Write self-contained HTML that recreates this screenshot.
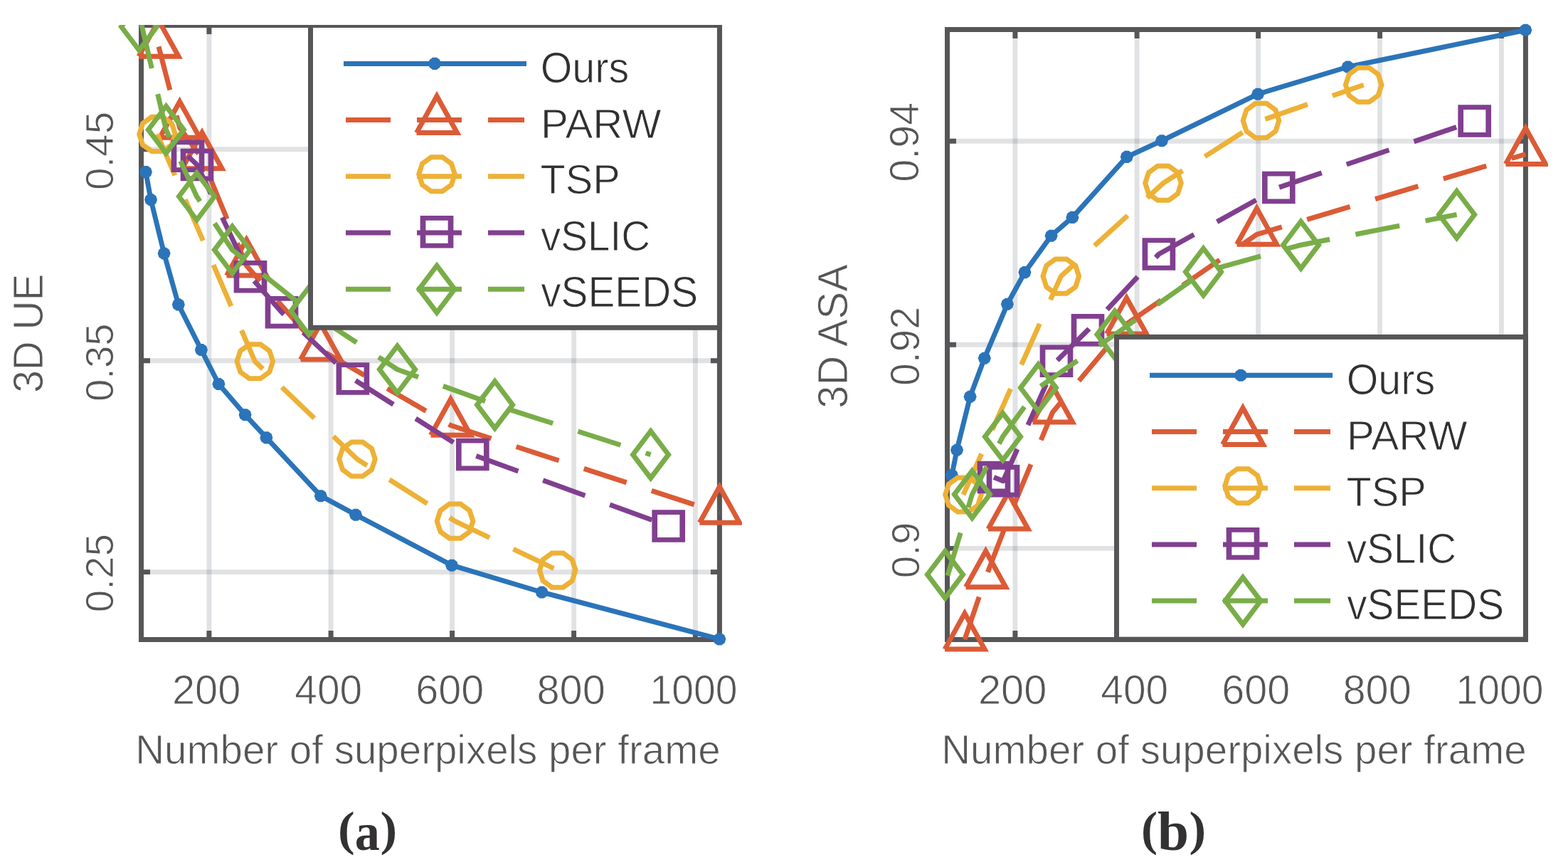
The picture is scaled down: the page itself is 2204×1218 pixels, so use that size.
<!DOCTYPE html>
<html><head><meta charset="utf-8"><title>Superpixel evaluation</title><style>html,body{margin:0;padding:0;background:#fff;}body{width:2204px;height:1218px;overflow:hidden;}svg{display:block;}</style></head><body>
<svg width="2204" height="1218" viewBox="0 0 2204 1218">
<defs><clipPath id="cl"><rect x="0" y="35" width="1043" height="1183"/></clipPath><clipPath id="cr"><rect x="1100" y="0" width="1076" height="1218"/></clipPath></defs>
<rect width="2204" height="1218" fill="#fff"/>
<g font-family='"Liberation Sans", Arial, Helvetica, sans-serif'>
<g clip-path="url(#cl)">
<line x1="293.9" y1="35.5" x2="293.9" y2="898.5" stroke="rgb(55,62,75)" stroke-opacity="0.15" stroke-width="6.9"/>
<line x1="465.1" y1="35.5" x2="465.1" y2="898.5" stroke="rgb(55,62,75)" stroke-opacity="0.15" stroke-width="6.9"/>
<line x1="635.6" y1="35.5" x2="635.6" y2="898.5" stroke="rgb(55,62,75)" stroke-opacity="0.15" stroke-width="6.9"/>
<line x1="806.6" y1="35.5" x2="806.6" y2="898.5" stroke="rgb(55,62,75)" stroke-opacity="0.15" stroke-width="6.9"/>
<line x1="977.4" y1="35.5" x2="977.4" y2="898.5" stroke="rgb(55,62,75)" stroke-opacity="0.15" stroke-width="6.9"/>
<line x1="198.5" y1="209.8" x2="1011.4" y2="209.8" stroke="rgb(55,62,75)" stroke-opacity="0.15" stroke-width="6.9"/>
<line x1="198.5" y1="506.7" x2="1011.4" y2="506.7" stroke="rgb(55,62,75)" stroke-opacity="0.15" stroke-width="6.9"/>
<line x1="198.5" y1="803.6" x2="1011.4" y2="803.6" stroke="rgb(55,62,75)" stroke-opacity="0.15" stroke-width="6.9"/>
<path d="M293.9 898.5V886M293.9 35.5V48M465.1 898.5V886M465.1 35.5V48M635.6 898.5V886M635.6 35.5V48M806.6 898.5V886M806.6 35.5V48M977.4 898.5V886M977.4 35.5V48M198.5 209.8H211M1011.4 209.8H998.9M198.5 506.7H211M1011.4 506.7H998.9M198.5 803.6H211M1011.4 803.6H998.9" stroke="#565658" stroke-width="6.9" fill="none"/>
<rect x="198.5" y="35.5" width="812.9" height="863" fill="none" stroke="#565658" stroke-width="7"/>
<path d="M204.9 241.6 L212 280.5 L230.6 356 L250.8 427.9 L282.9 491.5 L307.4 539.5 L344.6 582.8 L374.4 614.9 L450.8 696.7 L500 723.2 L635.1 794.2 L761.6 832 L1011.3 897.9" fill="none" stroke="#2b74b9" stroke-width="7" stroke-linejoin="round"/>
<polygon points="213.9,241.6 212.18,246.89 207.68,250.16 202.12,250.16 197.62,246.89 195.9,241.6 197.62,236.31 202.12,233.04 207.68,233.04 212.18,236.31" fill="#2b74b9"/>
<polygon points="221,280.5 219.28,285.79 214.78,289.06 209.22,289.06 204.72,285.79 203,280.5 204.72,275.21 209.22,271.94 214.78,271.94 219.28,275.21" fill="#2b74b9"/>
<polygon points="239.6,356 237.88,361.29 233.38,364.56 227.82,364.56 223.32,361.29 221.6,356 223.32,350.71 227.82,347.44 233.38,347.44 237.88,350.71" fill="#2b74b9"/>
<polygon points="259.8,427.9 258.08,433.19 253.58,436.46 248.02,436.46 243.52,433.19 241.8,427.9 243.52,422.61 248.02,419.34 253.58,419.34 258.08,422.61" fill="#2b74b9"/>
<polygon points="291.9,491.5 290.18,496.79 285.68,500.06 280.12,500.06 275.62,496.79 273.9,491.5 275.62,486.21 280.12,482.94 285.68,482.94 290.18,486.21" fill="#2b74b9"/>
<polygon points="316.4,539.5 314.68,544.79 310.18,548.06 304.62,548.06 300.12,544.79 298.4,539.5 300.12,534.21 304.62,530.94 310.18,530.94 314.68,534.21" fill="#2b74b9"/>
<polygon points="353.6,582.8 351.88,588.09 347.38,591.36 341.82,591.36 337.32,588.09 335.6,582.8 337.32,577.51 341.82,574.24 347.38,574.24 351.88,577.51" fill="#2b74b9"/>
<polygon points="383.4,614.9 381.68,620.19 377.18,623.46 371.62,623.46 367.12,620.19 365.4,614.9 367.12,609.61 371.62,606.34 377.18,606.34 381.68,609.61" fill="#2b74b9"/>
<polygon points="459.8,696.7 458.08,701.99 453.58,705.26 448.02,705.26 443.52,701.99 441.8,696.7 443.52,691.41 448.02,688.14 453.58,688.14 458.08,691.41" fill="#2b74b9"/>
<polygon points="509,723.2 507.28,728.49 502.78,731.76 497.22,731.76 492.72,728.49 491,723.2 492.72,717.91 497.22,714.64 502.78,714.64 507.28,717.91" fill="#2b74b9"/>
<polygon points="644.1,794.2 642.38,799.49 637.88,802.76 632.32,802.76 627.82,799.49 626.1,794.2 627.82,788.91 632.32,785.64 637.88,785.64 642.38,788.91" fill="#2b74b9"/>
<polygon points="770.6,832 768.88,837.29 764.38,840.56 758.82,840.56 754.32,837.29 752.6,832 754.32,826.71 758.82,823.44 764.38,823.44 768.88,826.71" fill="#2b74b9"/>
<polygon points="1020.3,897.9 1018.58,903.19 1014.08,906.46 1008.52,906.46 1004.02,903.19 1002.3,897.9 1004.02,892.61 1008.52,889.34 1014.08,889.34 1018.58,892.61" fill="#2b74b9"/>
<path d="M223 65.5 L252.6 179.4 L284 222.9 L346.5 373.3 L450.5 491.3 L633.5 597.5 L1011.4 720.5" fill="none" stroke="#db5b36" stroke-width="7" stroke-linejoin="round" stroke-dasharray="63 37"/>
<polyline points="195,79.3 223,28.8 251,79.3 195,79.3" fill="none" stroke="#db5b36" stroke-width="7" stroke-miterlimit="10"/>
<polyline points="224.6,193.2 252.6,142.7 280.6,193.2 224.6,193.2" fill="none" stroke="#db5b36" stroke-width="7" stroke-miterlimit="10"/>
<polyline points="256,236.7 284,186.2 312,236.7 256,236.7" fill="none" stroke="#db5b36" stroke-width="7" stroke-miterlimit="10"/>
<polyline points="318.5,387.1 346.5,336.6 374.5,387.1 318.5,387.1" fill="none" stroke="#db5b36" stroke-width="7" stroke-miterlimit="10"/>
<polyline points="422.5,505.1 450.5,454.6 478.5,505.1 422.5,505.1" fill="none" stroke="#db5b36" stroke-width="7" stroke-miterlimit="10"/>
<polyline points="605.5,611.3 633.5,560.8 661.5,611.3 605.5,611.3" fill="none" stroke="#db5b36" stroke-width="7" stroke-miterlimit="10"/>
<polyline points="983.4,734.3 1011.4,683.8 1039.4,734.3 983.4,734.3" fill="none" stroke="#db5b36" stroke-width="7" stroke-miterlimit="10"/>
<path d="M221 188.4 L358.3 507.7 L502 645 L639.5 732.1 L783.7 801.1" fill="none" stroke="#edb136" stroke-width="7" stroke-linejoin="round" stroke-dasharray="63 37"/>
<polygon points="246.3,188.4 241.47,203.27 228.82,212.46 213.18,212.46 200.53,203.27 195.7,188.4 200.53,173.53 213.18,164.34 228.82,164.34 241.47,173.53" fill="none" stroke="#edb136" stroke-width="7" stroke-miterlimit="10"/>
<polygon points="383.6,507.7 378.77,522.57 366.12,531.76 350.48,531.76 337.83,522.57 333,507.7 337.83,492.83 350.48,483.64 366.12,483.64 378.77,492.83" fill="none" stroke="#edb136" stroke-width="7" stroke-miterlimit="10"/>
<polygon points="527.3,645 522.47,659.87 509.82,669.06 494.18,669.06 481.53,659.87 476.7,645 481.53,630.13 494.18,620.94 509.82,620.94 522.47,630.13" fill="none" stroke="#edb136" stroke-width="7" stroke-miterlimit="10"/>
<polygon points="664.8,732.1 659.97,746.97 647.32,756.16 631.68,756.16 619.03,746.97 614.2,732.1 619.03,717.23 631.68,708.04 647.32,708.04 659.97,717.23" fill="none" stroke="#edb136" stroke-width="7" stroke-miterlimit="10"/>
<polygon points="809,801.1 804.17,815.97 791.52,825.16 775.88,825.16 763.23,815.97 758.4,801.1 763.23,786.23 775.88,777.04 791.52,777.04 804.17,786.23" fill="none" stroke="#edb136" stroke-width="7" stroke-miterlimit="10"/>
<path d="M264 219.2 L277 231.5 L352 388.7 L396 438.8 L495.9 532.1 L664.3 638.6 L939.7 739" fill="none" stroke="#813f8f" stroke-width="7" stroke-linejoin="round" stroke-dasharray="63 37"/>
<path d="M240.65 196.45H287.35V241.95H240.65ZM248.35 203.2V235.2H279.65V203.2Z" fill="#813f8f" fill-rule="evenodd"/>
<path d="M253.65 208.75H300.35V254.25H253.65ZM261.35 215.5V247.5H292.65V215.5Z" fill="#813f8f" fill-rule="evenodd"/>
<path d="M328.65 365.95H375.35V411.45H328.65ZM336.35 372.7V404.7H367.65V372.7Z" fill="#813f8f" fill-rule="evenodd"/>
<path d="M372.65 416.05H419.35V461.55H372.65ZM380.35 422.8V454.8H411.65V422.8Z" fill="#813f8f" fill-rule="evenodd"/>
<path d="M472.55 509.35H519.25V554.85H472.55ZM480.25 516.1V548.1H511.55V516.1Z" fill="#813f8f" fill-rule="evenodd"/>
<path d="M640.95 615.85H687.65V661.35H640.95ZM648.65 622.6V654.6H679.95V622.6Z" fill="#813f8f" fill-rule="evenodd"/>
<path d="M916.35 716.25H963.05V761.75H916.35ZM924.05 723V755H955.35V723Z" fill="#813f8f" fill-rule="evenodd"/>
<path d="M199 34.7 L233.4 182.2 L276.5 276 L326.5 351 L434 437 L558.5 519 L695.5 568.7 L914.6 638.7" fill="none" stroke="#79ad48" stroke-width="7" stroke-linejoin="round" stroke-dasharray="63 37"/>
<polygon points="195.5,4.5 220.5,37.5 195.5,70.5 170.5,37.5" fill="none" stroke="#79ad48" stroke-width="7" stroke-miterlimit="10"/>
<polygon points="233.4,149.2 258.4,182.2 233.4,215.2 208.4,182.2" fill="none" stroke="#79ad48" stroke-width="7" stroke-miterlimit="10"/>
<polygon points="276.5,243 301.5,276 276.5,309 251.5,276" fill="none" stroke="#79ad48" stroke-width="7" stroke-miterlimit="10"/>
<polygon points="326.5,318 351.5,351 326.5,384 301.5,351" fill="none" stroke="#79ad48" stroke-width="7" stroke-miterlimit="10"/>
<polygon points="434,404 459,437 434,470 409,437" fill="none" stroke="#79ad48" stroke-width="7" stroke-miterlimit="10"/>
<polygon points="558.5,486 583.5,519 558.5,552 533.5,519" fill="none" stroke="#79ad48" stroke-width="7" stroke-miterlimit="10"/>
<polygon points="695.5,535.7 720.5,568.7 695.5,601.7 670.5,568.7" fill="none" stroke="#79ad48" stroke-width="7" stroke-miterlimit="10"/>
<polygon points="914.6,605.7 939.6,638.7 914.6,671.7 889.6,638.7" fill="none" stroke="#79ad48" stroke-width="7" stroke-miterlimit="10"/>
<rect x="436.5" y="35.5" width="574.9" height="424.8" fill="#fff" stroke="#565658" stroke-width="7"/>
<path d="M483 89.4H740" stroke="#2b74b9" stroke-width="7"/>
<polygon points="620,89.4 618.28,94.69 613.78,97.96 608.22,97.96 603.72,94.69 602,89.4 603.72,84.11 608.22,80.84 613.78,80.84 618.28,84.11" fill="#2b74b9"/>
<path d="M486 168.6H737" stroke="#db5b36" stroke-width="7" stroke-dasharray="63 37"/>
<polyline points="585.5,186.6 614,135.1 642.5,186.6 585.5,186.6" fill="none" stroke="#db5b36" stroke-width="7" stroke-miterlimit="10"/>
<path d="M486 247.8H737" stroke="#edb136" stroke-width="7" stroke-dasharray="63 37"/>
<polygon points="639.3,244.8 634.47,259.67 621.82,268.86 606.18,268.86 593.53,259.67 588.7,244.8 593.53,229.93 606.18,220.74 621.82,220.74 634.47,229.93" fill="none" stroke="#edb136" stroke-width="7" stroke-miterlimit="10"/>
<path d="M486 327H737" stroke="#813f8f" stroke-width="7" stroke-dasharray="63 37"/>
<path d="M590.65 303.05H637.35V348.55H590.65ZM598.35 309.8V341.8H629.65V309.8Z" fill="#813f8f" fill-rule="evenodd"/>
<path d="M486 406.2H737" stroke="#79ad48" stroke-width="7" stroke-dasharray="63 37"/>
<polygon points="614,373.2 639,406.2 614,439.2 589,406.2" fill="none" stroke="#79ad48" stroke-width="7" stroke-miterlimit="10"/>
</g>
<text x="821.9" y="116.45" id="leg0L" text-anchor="middle" font-size="60.93" stroke="#fff" stroke-width="0.9" fill="#303031" textLength="124.44" lengthAdjust="spacingAndGlyphs">Ours</text>
<text x="844.7" y="194.2" id="leg1L" text-anchor="middle" font-size="57.05" stroke="#fff" stroke-width="0.9" fill="#303031" textLength="169.48" lengthAdjust="spacingAndGlyphs">PARW</text>
<text x="815.59" y="272.27" id="leg2L" text-anchor="middle" font-size="57.43" stroke="#fff" stroke-width="0.9" fill="#303031" textLength="112.26" lengthAdjust="spacingAndGlyphs">TSP</text>
<text x="837.08" y="352.2" id="leg3L" text-anchor="middle" font-size="59" stroke="#fff" stroke-width="0.9" fill="#303031" textLength="153.95" lengthAdjust="spacingAndGlyphs">vSLIC</text>
<text x="870.65" y="431.24" id="leg4L" text-anchor="middle" font-size="60.33" stroke="#fff" stroke-width="0.9" fill="#303031" textLength="220.88" lengthAdjust="spacingAndGlyphs">vSEEDS</text>
<text x="290.11" y="989.38" id="xt200L" text-anchor="middle" font-size="56.46" stroke="#fff" stroke-width="0.9" fill="#555557" textLength="96.42" lengthAdjust="spacingAndGlyphs">200</text>
<text x="461.79" y="989.38" id="xt400L" text-anchor="middle" font-size="56.46" stroke="#fff" stroke-width="0.9" fill="#555557" textLength="94.93" lengthAdjust="spacingAndGlyphs">400</text>
<text x="632.19" y="989.38" id="xt600L" text-anchor="middle" font-size="56.46" stroke="#fff" stroke-width="0.9" fill="#555557" textLength="96" lengthAdjust="spacingAndGlyphs">600</text>
<text x="802.59" y="989.38" id="xt800L" text-anchor="middle" font-size="56.46" stroke="#fff" stroke-width="0.9" fill="#555557" textLength="96.39" lengthAdjust="spacingAndGlyphs">800</text>
<text x="975.04" y="989.38" id="xt1000L" text-anchor="middle" font-size="56.46" stroke="#fff" stroke-width="0.9" fill="#555557" textLength="122.87" lengthAdjust="spacingAndGlyphs">1000</text>
<text transform="translate(159.03 212) rotate(-90)" id="yt0L" text-anchor="middle" font-size="56.06" stroke="#fff" stroke-width="0.9" fill="#555557" textLength="110.27" lengthAdjust="spacingAndGlyphs">0.45</text>
<text transform="translate(158.79 509.21) rotate(-90)" id="yt1L" text-anchor="middle" font-size="56.06" stroke="#fff" stroke-width="0.9" fill="#555557" textLength="109.65" lengthAdjust="spacingAndGlyphs">0.35</text>
<text transform="translate(158.79 805.01) rotate(-90)" id="yt2L" text-anchor="middle" font-size="56.06" stroke="#fff" stroke-width="0.9" fill="#555557" textLength="110.29" lengthAdjust="spacingAndGlyphs">0.25</text>
<text x="601.51" y="1072.86" id="xlabL" text-anchor="middle" font-size="57.76" stroke="#fff" stroke-width="0.9" fill="#555557" textLength="822.39" lengthAdjust="spacingAndGlyphs">Number of superpixels per frame</text>
<g clip-path="url(#cr)">
<line x1="1426.9" y1="41.5" x2="1426.9" y2="898.5" stroke="rgb(55,62,75)" stroke-opacity="0.15" stroke-width="6.9"/>
<line x1="1598.1" y1="41.5" x2="1598.1" y2="898.5" stroke="rgb(55,62,75)" stroke-opacity="0.15" stroke-width="6.9"/>
<line x1="1768.6" y1="41.5" x2="1768.6" y2="898.5" stroke="rgb(55,62,75)" stroke-opacity="0.15" stroke-width="6.9"/>
<line x1="1939.6" y1="41.5" x2="1939.6" y2="898.5" stroke="rgb(55,62,75)" stroke-opacity="0.15" stroke-width="6.9"/>
<line x1="2110.4" y1="41.5" x2="2110.4" y2="898.5" stroke="rgb(55,62,75)" stroke-opacity="0.15" stroke-width="6.9"/>
<line x1="1331.5" y1="198.3" x2="2144.4" y2="198.3" stroke="rgb(55,62,75)" stroke-opacity="0.15" stroke-width="6.9"/>
<line x1="1331.5" y1="484.3" x2="2144.4" y2="484.3" stroke="rgb(55,62,75)" stroke-opacity="0.15" stroke-width="6.9"/>
<line x1="1331.5" y1="770.4" x2="2144.4" y2="770.4" stroke="rgb(55,62,75)" stroke-opacity="0.15" stroke-width="6.9"/>
<path d="M1426.9 898.5V886M1426.9 41.5V54M1598.1 898.5V886M1598.1 41.5V54M1768.6 898.5V886M1768.6 41.5V54M1939.6 898.5V886M1939.6 41.5V54M2110.4 898.5V886M2110.4 41.5V54M1331.5 198.3H1344M2144.4 198.3H2131.9M1331.5 484.3H1344M2144.4 484.3H2131.9M1331.5 770.4H1344M2144.4 770.4H2131.9" stroke="#565658" stroke-width="6.9" fill="none"/>
<rect x="1331.5" y="41.5" width="812.9" height="857" fill="none" stroke="#565658" stroke-width="7"/>
<path d="M1337.9 667.6 L1345 632.2 L1363.6 557.3 L1383.8 503.2 L1415.9 427.3 L1440.4 382.6 L1477.6 331.2 L1507.4 305.4 L1583.8 220.4 L1633 197.7 L1768.1 132.2 L1894.6 94 L2144.3 42.2" fill="none" stroke="#2b74b9" stroke-width="7" stroke-linejoin="round"/>
<polygon points="1346.9,667.6 1345.18,672.89 1340.68,676.16 1335.12,676.16 1330.62,672.89 1328.9,667.6 1330.62,662.31 1335.12,659.04 1340.68,659.04 1345.18,662.31" fill="#2b74b9"/>
<polygon points="1354,632.2 1352.28,637.49 1347.78,640.76 1342.22,640.76 1337.72,637.49 1336,632.2 1337.72,626.91 1342.22,623.64 1347.78,623.64 1352.28,626.91" fill="#2b74b9"/>
<polygon points="1372.6,557.3 1370.88,562.59 1366.38,565.86 1360.82,565.86 1356.32,562.59 1354.6,557.3 1356.32,552.01 1360.82,548.74 1366.38,548.74 1370.88,552.01" fill="#2b74b9"/>
<polygon points="1392.8,503.2 1391.08,508.49 1386.58,511.76 1381.02,511.76 1376.52,508.49 1374.8,503.2 1376.52,497.91 1381.02,494.64 1386.58,494.64 1391.08,497.91" fill="#2b74b9"/>
<polygon points="1424.9,427.3 1423.18,432.59 1418.68,435.86 1413.12,435.86 1408.62,432.59 1406.9,427.3 1408.62,422.01 1413.12,418.74 1418.68,418.74 1423.18,422.01" fill="#2b74b9"/>
<polygon points="1449.4,382.6 1447.68,387.89 1443.18,391.16 1437.62,391.16 1433.12,387.89 1431.4,382.6 1433.12,377.31 1437.62,374.04 1443.18,374.04 1447.68,377.31" fill="#2b74b9"/>
<polygon points="1486.6,331.2 1484.88,336.49 1480.38,339.76 1474.82,339.76 1470.32,336.49 1468.6,331.2 1470.32,325.91 1474.82,322.64 1480.38,322.64 1484.88,325.91" fill="#2b74b9"/>
<polygon points="1516.4,305.4 1514.68,310.69 1510.18,313.96 1504.62,313.96 1500.12,310.69 1498.4,305.4 1500.12,300.11 1504.62,296.84 1510.18,296.84 1514.68,300.11" fill="#2b74b9"/>
<polygon points="1592.8,220.4 1591.08,225.69 1586.58,228.96 1581.02,228.96 1576.52,225.69 1574.8,220.4 1576.52,215.11 1581.02,211.84 1586.58,211.84 1591.08,215.11" fill="#2b74b9"/>
<polygon points="1642,197.7 1640.28,202.99 1635.78,206.26 1630.22,206.26 1625.72,202.99 1624,197.7 1625.72,192.41 1630.22,189.14 1635.78,189.14 1640.28,192.41" fill="#2b74b9"/>
<polygon points="1777.1,132.2 1775.38,137.49 1770.88,140.76 1765.32,140.76 1760.82,137.49 1759.1,132.2 1760.82,126.91 1765.32,123.64 1770.88,123.64 1775.38,126.91" fill="#2b74b9"/>
<polygon points="1903.6,94 1901.88,99.29 1897.38,102.56 1891.82,102.56 1887.32,99.29 1885.6,94 1887.32,88.71 1891.82,85.44 1897.38,85.44 1901.88,88.71" fill="#2b74b9"/>
<polygon points="2153.3,42.2 2151.58,47.49 2147.08,50.76 2141.52,50.76 2137.02,47.49 2135.3,42.2 2137.02,36.91 2141.52,33.64 2147.08,33.64 2151.58,36.91" fill="#2b74b9"/>
<path d="M1356 898.3 L1385.6 811 L1417 729.3 L1479.5 579.2 L1583.5 455.2 L1766.5 329.4 L2144.4 216.6" fill="none" stroke="#db5b36" stroke-width="7" stroke-linejoin="round" stroke-dasharray="63 37"/>
<polyline points="1328,912.1 1356,861.6 1384,912.1 1328,912.1" fill="none" stroke="#db5b36" stroke-width="7" stroke-miterlimit="10"/>
<polyline points="1357.6,824.8 1385.6,774.3 1413.6,824.8 1357.6,824.8" fill="none" stroke="#db5b36" stroke-width="7" stroke-miterlimit="10"/>
<polyline points="1389,743.1 1417,692.6 1445,743.1 1389,743.1" fill="none" stroke="#db5b36" stroke-width="7" stroke-miterlimit="10"/>
<polyline points="1451.5,593 1479.5,542.5 1507.5,593 1451.5,593" fill="none" stroke="#db5b36" stroke-width="7" stroke-miterlimit="10"/>
<polyline points="1555.5,469 1583.5,418.5 1611.5,469 1555.5,469" fill="none" stroke="#db5b36" stroke-width="7" stroke-miterlimit="10"/>
<polyline points="1738.5,343.2 1766.5,292.7 1794.5,343.2 1738.5,343.2" fill="none" stroke="#db5b36" stroke-width="7" stroke-miterlimit="10"/>
<polyline points="2116.4,230.4 2144.4,179.9 2172.4,230.4 2116.4,230.4" fill="none" stroke="#db5b36" stroke-width="7" stroke-miterlimit="10"/>
<path d="M1354 695 L1491.3 388.1 L1635 257.3 L1772.5 169.4 L1916.7 119.3" fill="none" stroke="#edb136" stroke-width="7" stroke-linejoin="round" stroke-dasharray="63 37"/>
<polygon points="1379.3,695 1374.47,709.87 1361.82,719.06 1346.18,719.06 1333.53,709.87 1328.7,695 1333.53,680.13 1346.18,670.94 1361.82,670.94 1374.47,680.13" fill="none" stroke="#edb136" stroke-width="7" stroke-miterlimit="10"/>
<polygon points="1516.6,388.1 1511.77,402.97 1499.12,412.16 1483.48,412.16 1470.83,402.97 1466,388.1 1470.83,373.23 1483.48,364.04 1499.12,364.04 1511.77,373.23" fill="none" stroke="#edb136" stroke-width="7" stroke-miterlimit="10"/>
<polygon points="1660.3,257.3 1655.47,272.17 1642.82,281.36 1627.18,281.36 1614.53,272.17 1609.7,257.3 1614.53,242.43 1627.18,233.24 1642.82,233.24 1655.47,242.43" fill="none" stroke="#edb136" stroke-width="7" stroke-miterlimit="10"/>
<polygon points="1797.8,169.4 1792.97,184.27 1780.32,193.46 1764.68,193.46 1752.03,184.27 1747.2,169.4 1752.03,154.53 1764.68,145.34 1780.32,145.34 1792.97,154.53" fill="none" stroke="#edb136" stroke-width="7" stroke-miterlimit="10"/>
<polygon points="1942,119.3 1937.17,134.17 1924.52,143.36 1908.88,143.36 1896.23,134.17 1891.4,119.3 1896.23,104.43 1908.88,95.24 1924.52,95.24 1937.17,104.43" fill="none" stroke="#edb136" stroke-width="7" stroke-miterlimit="10"/>
<path d="M1397 670.4 L1410 675.7 L1485 507.3 L1529 463.8 L1628.9 357 L1797.3 263.4 L2072.7 169.9" fill="none" stroke="#813f8f" stroke-width="7" stroke-linejoin="round" stroke-dasharray="63 37"/>
<path d="M1373.65 647.65H1420.35V693.15H1373.65ZM1381.35 654.4V686.4H1412.65V654.4Z" fill="#813f8f" fill-rule="evenodd"/>
<path d="M1386.65 652.95H1433.35V698.45H1386.65ZM1394.35 659.7V691.7H1425.65V659.7Z" fill="#813f8f" fill-rule="evenodd"/>
<path d="M1461.65 484.55H1508.35V530.05H1461.65ZM1469.35 491.3V523.3H1500.65V491.3Z" fill="#813f8f" fill-rule="evenodd"/>
<path d="M1505.65 441.05H1552.35V486.55H1505.65ZM1513.35 447.8V479.8H1544.65V447.8Z" fill="#813f8f" fill-rule="evenodd"/>
<path d="M1605.55 334.25H1652.25V379.75H1605.55ZM1613.25 341V373H1644.55V341Z" fill="#813f8f" fill-rule="evenodd"/>
<path d="M1773.95 240.65H1820.65V286.15H1773.95ZM1781.65 247.4V279.4H1812.95V247.4Z" fill="#813f8f" fill-rule="evenodd"/>
<path d="M2049.35 147.15H2096.05V192.65H2049.35ZM2057.05 153.9V185.9H2088.35V153.9Z" fill="#813f8f" fill-rule="evenodd"/>
<path d="M1332 808.8 L1366.4 694.6 L1409.5 613.4 L1459.5 544.8 L1567 470 L1691.5 382 L1828.5 344.2 L2047.6 301.5" fill="none" stroke="#79ad48" stroke-width="7" stroke-linejoin="round" stroke-dasharray="63 37"/>
<polygon points="1328.5,774.2 1353.5,807.2 1328.5,840.2 1303.5,807.2" fill="none" stroke="#79ad48" stroke-width="7" stroke-miterlimit="10"/>
<polygon points="1366.4,661.6 1391.4,694.6 1366.4,727.6 1341.4,694.6" fill="none" stroke="#79ad48" stroke-width="7" stroke-miterlimit="10"/>
<polygon points="1409.5,580.4 1434.5,613.4 1409.5,646.4 1384.5,613.4" fill="none" stroke="#79ad48" stroke-width="7" stroke-miterlimit="10"/>
<polygon points="1459.5,511.8 1484.5,544.8 1459.5,577.8 1434.5,544.8" fill="none" stroke="#79ad48" stroke-width="7" stroke-miterlimit="10"/>
<polygon points="1567,437 1592,470 1567,503 1542,470" fill="none" stroke="#79ad48" stroke-width="7" stroke-miterlimit="10"/>
<polygon points="1691.5,349 1716.5,382 1691.5,415 1666.5,382" fill="none" stroke="#79ad48" stroke-width="7" stroke-miterlimit="10"/>
<polygon points="1828.5,311.2 1853.5,344.2 1828.5,377.2 1803.5,344.2" fill="none" stroke="#79ad48" stroke-width="7" stroke-miterlimit="10"/>
<polygon points="2047.6,268.5 2072.6,301.5 2047.6,334.5 2022.6,301.5" fill="none" stroke="#79ad48" stroke-width="7" stroke-miterlimit="10"/>
<rect x="1569.5" y="473.4" width="574.9" height="424.8" fill="#fff" stroke="#565658" stroke-width="7"/>
<path d="M1616 527.3H1873" stroke="#2b74b9" stroke-width="7"/>
<polygon points="1753,527.3 1751.28,532.59 1746.78,535.86 1741.22,535.86 1736.72,532.59 1735,527.3 1736.72,522.01 1741.22,518.74 1746.78,518.74 1751.28,522.01" fill="#2b74b9"/>
<path d="M1619 606.5H1870" stroke="#db5b36" stroke-width="7" stroke-dasharray="63 37"/>
<polyline points="1718.5,624.5 1747,573 1775.5,624.5 1718.5,624.5" fill="none" stroke="#db5b36" stroke-width="7" stroke-miterlimit="10"/>
<path d="M1619 685.7H1870" stroke="#edb136" stroke-width="7" stroke-dasharray="63 37"/>
<polygon points="1772.3,682.7 1767.47,697.57 1754.82,706.76 1739.18,706.76 1726.53,697.57 1721.7,682.7 1726.53,667.83 1739.18,658.64 1754.82,658.64 1767.47,667.83" fill="none" stroke="#edb136" stroke-width="7" stroke-miterlimit="10"/>
<path d="M1619 764.9H1870" stroke="#813f8f" stroke-width="7" stroke-dasharray="63 37"/>
<path d="M1723.65 740.95H1770.35V786.45H1723.65ZM1731.35 747.7V779.7H1762.65V747.7Z" fill="#813f8f" fill-rule="evenodd"/>
<path d="M1619 844.1H1870" stroke="#79ad48" stroke-width="7" stroke-dasharray="63 37"/>
<polygon points="1747,811.1 1772,844.1 1747,877.1 1722,844.1" fill="none" stroke="#79ad48" stroke-width="7" stroke-miterlimit="10"/>
</g>
<text x="1954.9" y="553.89" id="leg0R" text-anchor="middle" font-size="60.93" stroke="#fff" stroke-width="0.9" fill="#303031" textLength="124.44" lengthAdjust="spacingAndGlyphs">Ours</text>
<text x="1977.7" y="631.7" id="leg1R" text-anchor="middle" font-size="57.05" stroke="#fff" stroke-width="0.9" fill="#303031" textLength="169.48" lengthAdjust="spacingAndGlyphs">PARW</text>
<text x="1948.59" y="710.75" id="leg2R" text-anchor="middle" font-size="57.43" stroke="#fff" stroke-width="0.9" fill="#303031" textLength="112.26" lengthAdjust="spacingAndGlyphs">TSP</text>
<text x="1970.08" y="790.68" id="leg3R" text-anchor="middle" font-size="59" stroke="#fff" stroke-width="0.9" fill="#303031" textLength="153.95" lengthAdjust="spacingAndGlyphs">vSLIC</text>
<text x="2003.65" y="869.7" id="leg4R" text-anchor="middle" font-size="60.33" stroke="#fff" stroke-width="0.9" fill="#303031" textLength="220.88" lengthAdjust="spacingAndGlyphs">vSEEDS</text>
<text x="1423.11" y="989.38" id="xt200R" text-anchor="middle" font-size="56.46" stroke="#fff" stroke-width="0.9" fill="#555557" textLength="96.42" lengthAdjust="spacingAndGlyphs">200</text>
<text x="1594.79" y="989.38" id="xt400R" text-anchor="middle" font-size="56.46" stroke="#fff" stroke-width="0.9" fill="#555557" textLength="94.93" lengthAdjust="spacingAndGlyphs">400</text>
<text x="1765.19" y="989.38" id="xt600R" text-anchor="middle" font-size="56.46" stroke="#fff" stroke-width="0.9" fill="#555557" textLength="96" lengthAdjust="spacingAndGlyphs">600</text>
<text x="1935.59" y="989.38" id="xt800R" text-anchor="middle" font-size="56.46" stroke="#fff" stroke-width="0.9" fill="#555557" textLength="96.39" lengthAdjust="spacingAndGlyphs">800</text>
<text x="2108.04" y="989.38" id="xt1000R" text-anchor="middle" font-size="56.46" stroke="#fff" stroke-width="0.9" fill="#555557" textLength="122.87" lengthAdjust="spacingAndGlyphs">1000</text>
<text transform="translate(1291.37 199.8) rotate(-90)" id="yt0R" text-anchor="middle" font-size="57.14" stroke="#fff" stroke-width="0.9" fill="#555557" textLength="111.75" lengthAdjust="spacingAndGlyphs">0.94</text>
<text transform="translate(1292.02 486.49) rotate(-90)" id="yt1R" text-anchor="middle" font-size="56.53" stroke="#fff" stroke-width="0.9" fill="#555557" textLength="111.16" lengthAdjust="spacingAndGlyphs">0.92</text>
<text transform="translate(1291.79 772.81) rotate(-90)" id="yt2R" text-anchor="middle" font-size="56.06" stroke="#fff" stroke-width="0.9" fill="#555557" textLength="78.74" lengthAdjust="spacingAndGlyphs">0.9</text>
<text x="1734.51" y="1072.86" id="xlabR" text-anchor="middle" font-size="57.76" stroke="#fff" stroke-width="0.9" fill="#555557" textLength="822.39" lengthAdjust="spacingAndGlyphs">Number of superpixels per frame</text>
<text transform="translate(59.62 468.2) rotate(-90)" id="ylabL" text-anchor="middle" font-size="59.52" stroke="#fff" stroke-width="0.9" fill="#555557" textLength="167.33" lengthAdjust="spacingAndGlyphs">3D UE</text>
<text transform="translate(1191.41 472.5) rotate(-90)" id="ylabR" text-anchor="middle" font-size="59.85" stroke="#fff" stroke-width="0.9" fill="#555557" textLength="202.4" lengthAdjust="spacingAndGlyphs">3D ASA</text>
</g>
<text x="486.74" y="1186.65" id="capA0" text-anchor="middle" font-size="68.49" stroke="#fff" stroke-width="0" fill="#333132" font-family='"Liberation Serif", "Times New Roman", serif' font-weight="bold" textLength="23.65" lengthAdjust="spacingAndGlyphs">(</text>
<text x="516.26" y="1193.93" id="capA1" text-anchor="middle" font-size="73.08" stroke="#fff" stroke-width="0" fill="#333132" font-family='"Liberation Serif", "Times New Roman", serif' font-weight="bold" textLength="35.07" lengthAdjust="spacingAndGlyphs">a</text>
<text x="546.25" y="1186.65" id="capA2" text-anchor="middle" font-size="68.49" stroke="#fff" stroke-width="0" fill="#333132" font-family='"Liberation Serif", "Times New Roman", serif' font-weight="bold" textLength="23.63" lengthAdjust="spacingAndGlyphs">)</text>
<text x="1615.5" y="1186.65" id="capB0" text-anchor="middle" font-size="68.49" stroke="#fff" stroke-width="0" fill="#333132" font-family='"Liberation Serif", "Times New Roman", serif' font-weight="bold" textLength="23.04" lengthAdjust="spacingAndGlyphs">(</text>
<text x="1649.14" y="1193.88" id="capB1" text-anchor="middle" font-size="77.31" stroke="#fff" stroke-width="0" fill="#333132" font-family='"Liberation Serif", "Times New Roman", serif' font-weight="bold" textLength="44.05" lengthAdjust="spacingAndGlyphs">b</text>
<text x="1683.25" y="1186.65" id="capB2" text-anchor="middle" font-size="68.49" stroke="#fff" stroke-width="0" fill="#333132" font-family='"Liberation Serif", "Times New Roman", serif' font-weight="bold" textLength="23.63" lengthAdjust="spacingAndGlyphs">)</text>
</svg>
</body></html>
